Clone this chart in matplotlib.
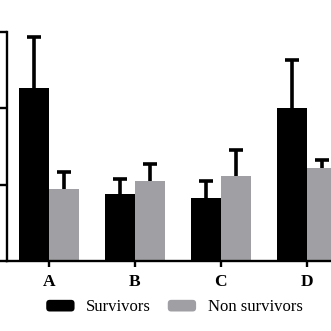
import numpy as np
import matplotlib
matplotlib.use("Agg")
import matplotlib.pyplot as plt
from matplotlib.patches import FancyBboxPatch, Patch
from matplotlib.legend_handler import HandlerPatch

categories = ["A", "B", "C", "D"]
survivors = [2.27, 0.88, 0.83, 2.00]
survivors_err = [0.66, 0.20, 0.22, 0.63]
non_survivors = [0.94, 1.05, 1.11, 1.22]
non_survivors_err = [0.22, 0.22, 0.34, 0.10]
series_names = ["Survivors", "Non survivors"]

BLACK = "#000000"
GRAY = "#a0a0a4"

plt.rcParams["font.family"] = ["Liberation Serif", "DejaVu Serif"]

fig = plt.figure(figsize=(3.31, 3.31), dpi=100)
W = H = 331.0
ax = fig.add_axes([6.7 / W, (H - 261) / H, 1 - 6.7 / W, (261 - 32) / H])

x = np.arange(len(categories))
bw = 0.345
for off, vals, errs, col, name in [(-bw / 2, survivors, survivors_err, BLACK, series_names[0]),
                                   (bw / 2, non_survivors, non_survivors_err, GRAY, series_names[1])]:
    ax.bar(x + off, vals, bw, color=col, label=name, zorder=2)
    _, caps, _ = ax.errorbar(x + off, vals, yerr=[np.zeros(len(vals)), errs], fmt="none",
                             ecolor="black", elinewidth=2.6, capsize=5, capthick=2.6, zorder=1)
    caps[0].set_visible(False)

ax.set_xlim(-0.49, 3.28)
ax.set_ylim(0, 3)
ax.set_xticks(x)
ax.set_xticklabels(categories, fontweight="bold", fontsize=12.5)
ax.set_yticks([0, 1, 2, 3])
ax.set_yticklabels([])
for s in ["top", "right"]:
    ax.spines[s].set_visible(False)
for s in ["left", "bottom"]:
    ax.spines[s].set_linewidth(1.7)
ax.tick_params(axis="x", direction="out", length=4, width=1.7, pad=5)
ax.tick_params(axis="y", direction="out", length=5, width=1.7)


def make_round(legend, orig_handle, xdescent, ydescent, width, height, fontsize):
    return FancyBboxPatch((-xdescent, -ydescent), width, height,
                          boxstyle="round,pad=0,rounding_size=2.5",
                          facecolor=orig_handle.get_facecolor(), edgecolor="none")


handles = [Patch(facecolor=BLACK), Patch(facecolor=GRAY)]
fig.legend(handles, series_names, loc="center", bbox_to_anchor=(0.527, 0.071),
           ncol=2, frameon=False, fontsize=12, handlelength=1.7, handleheight=0.7,
           handletextpad=0.7, columnspacing=1.0,
           handler_map={Patch: HandlerPatch(patch_func=make_round)})

fig.savefig("out.png", dpi=100)
